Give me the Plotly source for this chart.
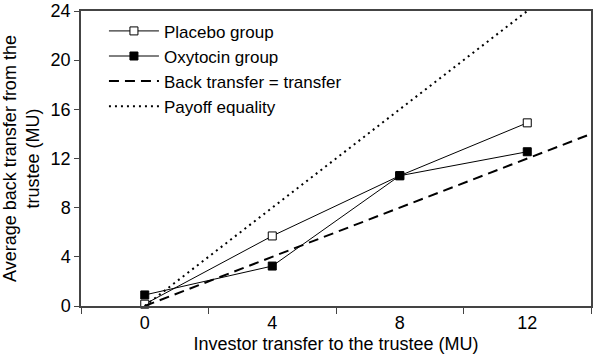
import plotly.graph_objects as go

# Data
transfer = [0, 4, 8, 12]
placebo = [0.15, 5.7, 10.6, 14.9]
oxytocin = [0.9, 3.25, 10.6, 12.55]
equal_x = [0, 14]
equal_y = [0, 14]
payoff_x = [0, 12]
payoff_y = [0, 24]
x_ticks = [0, 4, 8, 12]
x_tick_marks = [-2, 2, 6, 10, 14]
y_ticks = [0, 4, 8, 12, 16, 20, 24]

FONT = "Liberation Sans, Arial, Helvetica, sans-serif"

fig = go.Figure()
fig.add_trace(go.Scatter(
    x=transfer, y=placebo, mode="lines+markers", name="Placebo group",
    line=dict(color="black", width=1),
    marker=dict(symbol="square", size=8, color="white", line=dict(color="black", width=1)),
    cliponaxis=False))
fig.add_trace(go.Scatter(
    x=transfer, y=oxytocin, mode="lines+markers", name="Oxytocin group",
    line=dict(color="black", width=1),
    marker=dict(symbol="square", size=8, color="black", line=dict(color="black", width=1)),
    cliponaxis=False))
fig.add_trace(go.Scatter(
    x=equal_x, y=equal_y, mode="lines", name="Back transfer = transfer",
    line=dict(color="black", width=2, dash="10px,6px")))
fig.add_trace(go.Scatter(
    x=payoff_x, y=payoff_y, mode="lines", name="Payoff equality",
    line=dict(color="black", width=2, dash="2px,4px")))

fig.update_layout(
    width=600, height=360,
    margin=dict(l=81, r=9, t=11, b=54, autoexpand=False),
    paper_bgcolor="white", plot_bgcolor="white",
    font=dict(family=FONT, size=18, color="black"),
    showlegend=True,
    legend=dict(x=0.045, y=0.992, xanchor="left", yanchor="top",
                bgcolor="rgba(0,0,0,0)", font=dict(size=17),
                itemwidth=50, tracegroupgap=0),
    xaxis=dict(
        range=[-2, 14], tickvals=x_ticks, ticktext=[str(v) for v in x_ticks],
        ticks="", showgrid=False, zeroline=False, automargin=False,
        showline=True, mirror=True, linecolor="#444", linewidth=1.5,
        minor=dict(tickvals=x_tick_marks, ticks="outside", ticklen=6,
                   tickwidth=1, tickcolor="#444", showgrid=False),
        title=dict(text="Investor transfer to the trustee (MU)", standoff=5,
                   font=dict(size=18)),
    ),
    yaxis=dict(
        range=[0, 24], tickvals=y_ticks, ticks="outside", ticklen=5,
        tickwidth=1, tickcolor="#444", showgrid=False, zeroline=False,
        automargin=True,
        showline=True, mirror=True, linecolor="#444", linewidth=1.5,
        title=dict(text="Average back transfer from the<br>trustee (MU)",
                   standoff=6, font=dict(size=18)),
    ),
)

fig.write_html("out.html",
               config={"displayModeBar": False},
               post_script="document.body.style.margin='0';document.body.style.padding='0';")
